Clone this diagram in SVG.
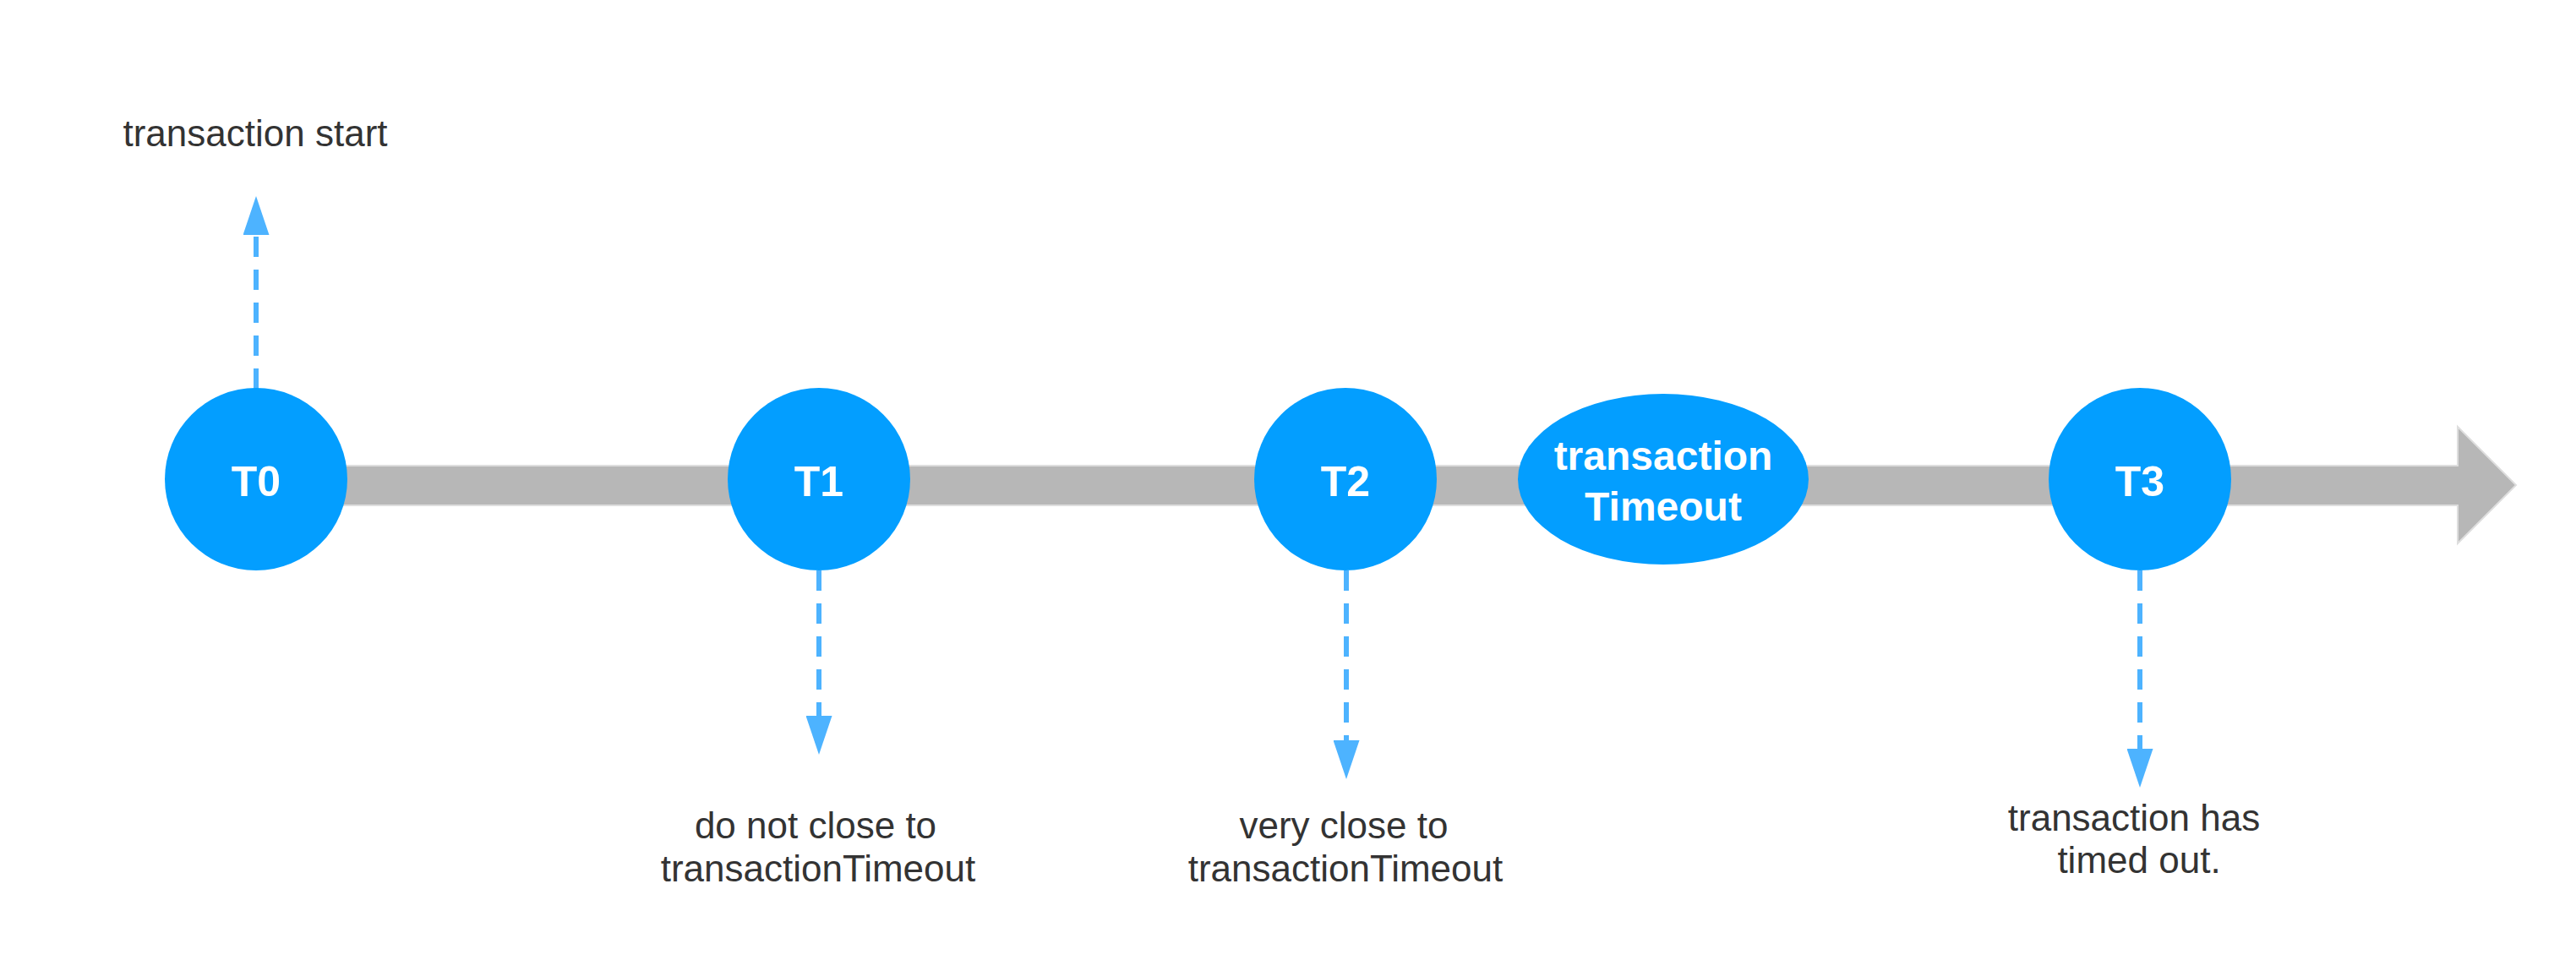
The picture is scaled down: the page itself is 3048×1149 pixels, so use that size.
<svg xmlns="http://www.w3.org/2000/svg" width="3048" height="1149" viewBox="0 0 3048 1149">
  <style>
    .node { fill: #039eff; }
    .nlabel { font-family: "Liberation Sans", Arial, sans-serif; font-weight: bold; fill: #ffffff; text-anchor: middle; }
    .label { font-family: "Liberation Sans", Arial, sans-serif; font-size: 44px; fill: #333333; text-anchor: middle; }
    .dash { fill: none; stroke: #4db3ff; stroke-width: 6; stroke-dasharray: 24 15; }
  </style>
  <defs>
    <marker id="ah" viewBox="0 0 46 31" refX="0" refY="15.5" markerWidth="46" markerHeight="31" markerUnits="userSpaceOnUse" orient="auto">
      <path d="M0,0 L46,15.5 L0,31 Z" fill="#4db3ff"/>
    </marker>
  </defs>
  <rect width="3048" height="1149" fill="#ffffff"/>

  <g id="timeline">
    <path d="M303,551 L2908,551 L2908,505 L2977,574 L2908,643 L2908,598 L303,598 Z" fill="#b7b7b7" stroke="#dedede" stroke-width="2"/>
  </g>

  <g id="connectors">
    <path class="dash" d="M303,460 L303,278" marker-end="url(#ah)"/>
    <path class="dash" d="M969,675 L969,847" marker-end="url(#ah)"/>
    <path class="dash" d="M1593,675 L1593,876" marker-end="url(#ah)"/>
    <path class="dash" d="M2532,675 L2532,886" marker-end="url(#ah)"/>
  </g>

  <g id="T0">
    <circle class="node" cx="303" cy="567" r="108"/>
    <text class="nlabel" x="303" y="587" font-size="50">T0</text>
  </g>
  <g id="T1">
    <circle class="node" cx="969" cy="567" r="108"/>
    <text class="nlabel" x="969" y="587" font-size="50">T1</text>
  </g>
  <g id="T2">
    <circle class="node" cx="1592" cy="567" r="108"/>
    <text class="nlabel" x="1592" y="587" font-size="50">T2</text>
  </g>
  <g id="transactionTimeout">
    <ellipse class="node" cx="1968" cy="567" rx="172" ry="101"/>
    <text class="nlabel" x="1968" y="556" font-size="48">transaction</text>
    <text class="nlabel" x="1968" y="616" font-size="48">Timeout</text>
  </g>
  <g id="T3">
    <circle class="node" cx="2532" cy="567" r="108"/>
    <text class="nlabel" x="2532" y="587" font-size="50">T3</text>
  </g>

  <g id="label-start">
    <text class="label" x="302" y="173">transaction start</text>
  </g>
  <g id="label-t1">
    <text class="label" x="965" y="992">do not close to</text>
    <text class="label" x="968" y="1043">transactionTimeout</text>
  </g>
  <g id="label-t2">
    <text class="label" x="1590" y="992">very close to</text>
    <text class="label" x="1592" y="1043">transactionTimeout</text>
  </g>
  <g id="label-t3">
    <text class="label" x="2525" y="983">transaction has</text>
    <text class="label" x="2531" y="1033">timed out.</text>
  </g>
</svg>
